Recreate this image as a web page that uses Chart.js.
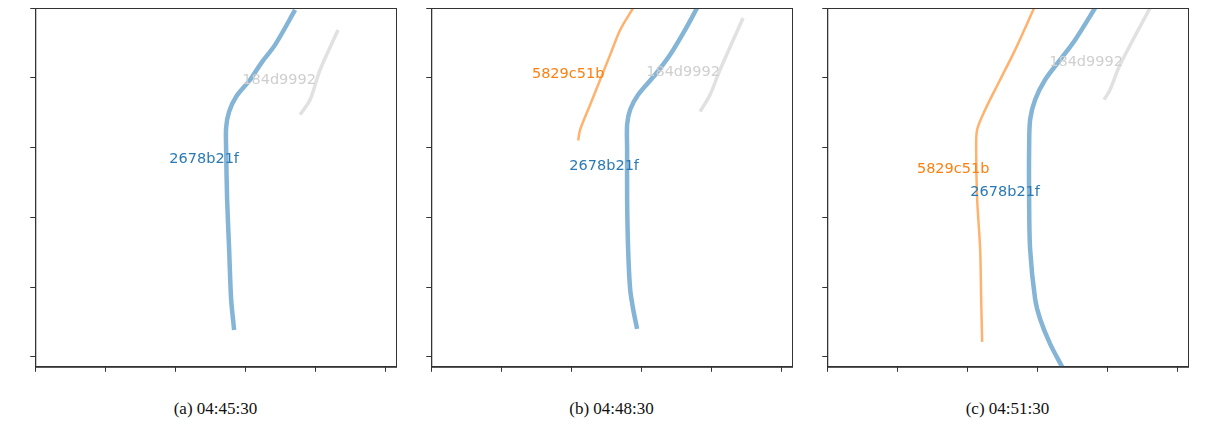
<!DOCTYPE html>
<html><head><meta charset="utf-8">
<script src="https://cdn.jsdelivr.net/npm/chart.js@4"></script>
<style>
body{margin:0;background:#fff;width:1215px;height:438px;position:relative;overflow:hidden}
.p{position:absolute;top:0;width:380px;height:380px}
.cap{position:absolute;top:399px;width:361px;text-align:center;font-family:"Liberation Serif","DejaVu Serif",serif;font-size:17px;color:#111}
</style></head><body>
<div class="p" style="left:30px"><canvas id="c0" width="380" height="380"></canvas></div>
<div class="p" style="left:426px"><canvas id="c1" width="380" height="380"></canvas></div>
<div class="p" style="left:822px"><canvas id="c2" width="380" height="380"></canvas></div>
<div class="cap" style="left:35px">(a) 04:45:30</div>
<div class="cap" style="left:431px">(b) 04:48:30</div>
<div class="cap" style="left:827px">(c) 04:51:30</div>
<script>
const xTicks=[0,70,140,210,280,350];
const yTicks=[10,80,150,220,290,360];
const ids={blue:'2678b21f',orange:'5829c51b',gray:'184d9992'};
// panel a
const a_blue=[[199,37],[196,68],[194,118],[192,168],[191,218],[191,240],[194,256],[201,271],[215,288],[227,306],[240,323],[260,358]];
const a_gray=[[265,253],[275,268],[285,298],[303,338]];
const a_labels=[['blue',169,208],['gray',244,288]];
// panel b
const b_orange=[[147,227],[149,238],[159,263],[169,288],[179,313],[189,338],[202,360]];
const b_blue=[[206,38],[202,58],[199,78],[197,118],[196,168],[196,218],[196,243],[199,258],[207,273],[224,293],[239,313],[254,338],[266,360]];
const b_gray=[[269,256],[279,273],[289,298],[312,350]];
const b_labels=[['orange',137,294],['gray',252,296],['blue',173,201]];
// panel c
const c_orange=[[155,25],[154,68],[153,118],[150,168],[149,218],[150,238],[158,258],[173,288],[188,318],[207,360]];
const c_blue=[[235,0],[223,23],[213,48],[208,68],[203,118],[202,168],[202,218],[203,248],[208,268],[218,288],[233,308],[248,328],[268,360]];
const c_gray=[[277,268],[283,278],[293,303],[323,360]];
const c_labels=[['orange',126,198],['blue',178,175],['gray',259,306]];

const style={blue:{c:'rgba(31,119,180,0.55)',w:4.5,t:'#2a7ab5'},orange:{c:'rgba(255,127,14,0.6)',w:2.5,t:'#ff7f0e'},gray:{c:'rgba(200,200,200,0.55)',w:3.5,t:'#cfcfcf'}};
const panels=[
 {lines:[['gray',a_gray],['blue',a_blue]],labels:a_labels},
 {lines:[['gray',b_gray],['orange',b_orange],['blue',b_blue]],labels:b_labels},
 {lines:[['gray',c_gray],['orange',c_orange],['blue',c_blue]],labels:c_labels}];

panels.forEach((p,i)=>{
 new Chart(document.getElementById('c'+i),{type:'scatter',
  data:{datasets:p.lines.map(([k,d])=>({data:d.map(([x,y])=>({x,y})),showLine:true,borderColor:style[k].c,borderWidth:style[k].w,pointRadius:0,tension:0.3,borderCapStyle:'butt'}))},
  options:{responsive:false,animation:false,devicePixelRatio:1,
   layout:{padding:{left:0,right:14,top:8,bottom:7}},
   plugins:{legend:{display:false},tooltip:{enabled:false}},
   scales:{
    x:{type:'linear',min:0,max:361,afterBuildTicks:s=>{s.ticks=xTicks.map(v=>({value:v}))},
       grid:{drawOnChartArea:false,drawTicks:true,tickLength:5,color:'#333'},border:{color:'#333'},
       ticks:{callback:()=>' ',font:{size:1},padding:0}},
    y:{type:'linear',min:0,max:360,afterBuildTicks:s=>{s.ticks=yTicks.map(v=>({value:v}))},
       grid:{drawOnChartArea:false,drawTicks:true,tickLength:5,color:'#333'},border:{color:'#333'},
       ticks:{callback:()=>' ',font:{size:1},padding:0}}}},
  plugins:[{id:'lab',afterDatasetsDraw(ch){
   const ctx=ch.ctx,a=ch.chartArea,xs=ch.scales.x,ys=ch.scales.y;
   ctx.save();ctx.font='14.5px "DejaVu Sans"';ctx.textAlign='center';ctx.textBaseline='middle';
   p.labels.forEach(([k,x,y])=>{ctx.fillStyle=style[k].t;ctx.fillText(ids[k],xs.getPixelForValue(x),ys.getPixelForValue(y));});
   ctx.strokeStyle='#333';ctx.lineWidth=1;ctx.strokeRect(a.left+0.5,a.top+0.5,a.right-a.left,a.bottom-a.top);
   ctx.restore();}}]
 });
});
</script></body></html>
